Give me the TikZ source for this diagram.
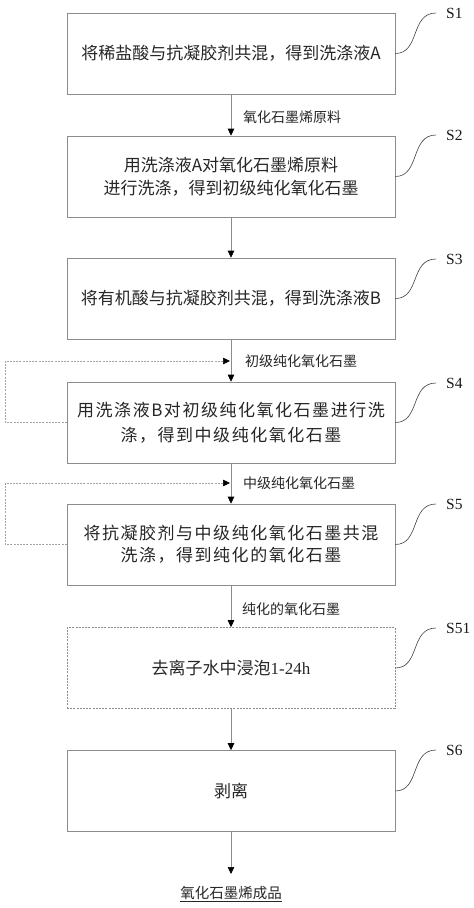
\documentclass[tikz,border=0pt]{standalone}
\usepackage{fontspec}
\setmainfont{Liberation Serif}
\newfontfamily\cjk{Noto Sans CJK SC}
\newfontfamily\cjkw[LetterSpace=9]{Noto Sans CJK SC}
\usetikzlibrary{arrows.meta}
\definecolor{boxline}{HTML}{8C8C8C}
\definecolor{txt}{HTML}{262626}
\tikzset{
  stepbox/.style={draw=boxline, line width=0.6pt, minimum width=328pt, minimum height=81pt,
    align=center, text=txt, inner sep=2pt, font=\cjk\fontsize{17}{23}\selectfont},
  dashbox/.style={stepbox, dash pattern=on 2pt off 1.2pt},
  flow/.style={draw=boxline, line width=0.6pt, -{Triangle[length=7pt,width=6.5pt,color=black]}},
  loopline/.style={draw=boxline!80, line width=0.6pt, dash pattern=on 2pt off 1.2pt,
    -{Triangle[length=7pt,width=6.5pt,color=black]}},
  flowlabel/.style={text=txt, font=\cjk\fontsize{14}{16}\selectfont, inner sep=0pt, anchor=west},
  steplabel/.style={text=black!90, font=\fontsize{15.5}{17}\selectfont, inner sep=0pt, anchor=west},
  sline/.style={draw=black!75, line width=0.6pt}
}
\begin{document}
\begin{tikzpicture}[x=1pt,y=-1pt]
\useasboundingbox (0,0) rectangle (474,908);
\node[stepbox] (S1) at (231,53.5) {将稀盐酸与抗凝胶剂共混，得到洗涤液A};
\node[stepbox] (S2) at (231,176.5) {用洗涤液A对氧化石墨烯原料\\进行洗涤，得到初级纯化氧化石墨};
\node[stepbox] (S3) at (231,298.5) {将有机酸与抗凝胶剂共混，得到洗涤液B};
\node[stepbox, font=\cjkw\fontsize{17}{25}\selectfont] (S4) at (231,422.5) {用洗涤液B对初级纯化氧化石墨进行洗\\涤，得到中级纯化氧化石墨};
\node[stepbox, font=\cjkw\fontsize{17}{22}\selectfont] (S5) at (231,544.5) {将抗凝胶剂与中级纯化氧化石墨共混\\洗涤，得到纯化的氧化石墨};
\node[dashbox] (S51) at (231,668) {去离子水中浸泡\rmfamily 1-24h};
\node[stepbox] (S6) at (231,791) {剥离};
\node[text=txt, font=\cjk\fontsize{14.5}{16}\selectfont, inner sep=0pt, anchor=north] (prod) at (231,886) {\underline{氧化石墨烯成品}};

\node[flowlabel] (f1) at (243,117) {氧化石墨烯原料};
\node[flowlabel] (f2) at (245,361) {初级纯化氧化石墨};
\node[flowlabel] (f3) at (243,483) {中级纯化氧化石墨};
\node[flowlabel] (f4) at (242,609) {纯化的氧化石墨};

\draw[flow] (S1) -- (S2);
\draw[flow] (S2) -- (S3);
\draw[flow] (S3) -- (S4);
\draw[flow] (S4) -- (S5);
\draw[flow] (S5) -- (S51);
\draw[flow] (S51) -- (S6);
\draw[flow, shorten >=12pt] (S6) -- (prod);

\coordinate (j4) at (230,361);
\coordinate (j5) at (230,483);
\draw[loopline] (S4.west) -- (5,422.5) |- (j4);
\draw[loopline] (S5.west) -- (5,544.5) |- (j5);

\foreach \n/\t/\y in {S1/S1/13, S2/S2/135, S3/S3/259, S4/S4/383, S5/S5/504, S51/S51/628, S6/S6/750}{
  \node[steplabel] (l\n) at (446,\y) {\t};
  \draw[sline] (\n.east) .. controls +(25,0) and +(-26,0) .. ([xshift=-10pt]l\n.west);
}
\end{tikzpicture}
\end{document}
